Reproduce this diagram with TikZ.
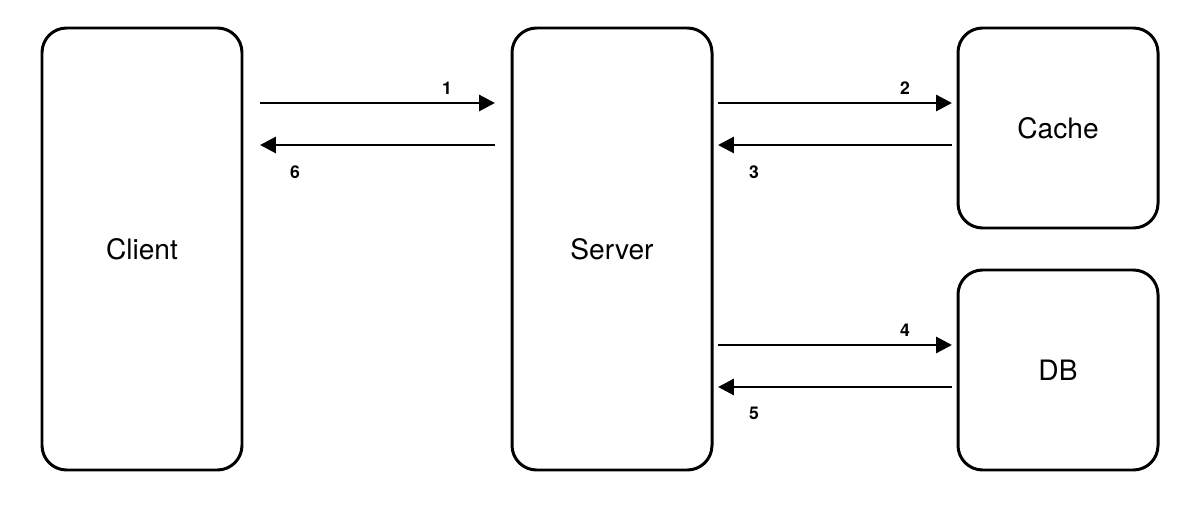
\documentclass[tikz,border=0pt]{standalone}
\usepackage{fontspec}
\setmainfont{TeX Gyre Heros}
\usetikzlibrary{arrows.meta}
\begin{document}
\begin{tikzpicture}[x=0.02cm,y=-0.02cm,
  box/.style={draw,line width=1.7pt,rounded corners=14pt,inner sep=0pt,font=\fontsize{16}{18}\selectfont},
  arr/.style={line width=1.7pt,-{Triangle[length=9pt,width=9pt]}},
  lab/.style={font=\bfseries\fontsize{10}{12}\selectfont}]
\useasboundingbox (0,0) rectangle (1200,506);
\node[box,minimum width=200*0.02cm,minimum height=442*0.02cm] (client) at (142,249) {Client};
\node[box,minimum width=200*0.02cm,minimum height=442*0.02cm] (server) at (612,249) {Server};
\node[box,minimum width=200*0.02cm,minimum height=200*0.02cm] (cache) at (1058,128) {Cache};
\node[box,minimum width=200*0.02cm,minimum height=200*0.02cm] (db) at (1058,370) {DB};
\coordinate (c1) at (260,103); \coordinate (s1) at (495,103);
\coordinate (c6) at (260,145); \coordinate (s6) at (495,145);
\coordinate (s2) at (718,103); \coordinate (k2) at (952,103);
\coordinate (s3) at (718,145); \coordinate (k3) at (952,145);
\coordinate (s4) at (718,345); \coordinate (d4) at (952,345);
\coordinate (s5) at (718,387); \coordinate (d5) at (952,387);
\draw[arr] (c1) -- (s1);
\draw[arr] (s6) -- (c6);
\draw[arr] (s2) -- (k2);
\draw[arr] (k3) -- (s3);
\draw[arr] (s4) -- (d4);
\draw[arr] (d5) -- (s5);
\node[lab] (l1) at (447,88) {1};
\node[lab] (l6) at (295,172) {6};
\node[lab] (l2) at (905,88) {2};
\node[lab] (l3) at (754,172) {3};
\node[lab] (l4) at (905,330) {4};
\node[lab] (l5) at (754,413) {5};
\end{tikzpicture}
\end{document}
